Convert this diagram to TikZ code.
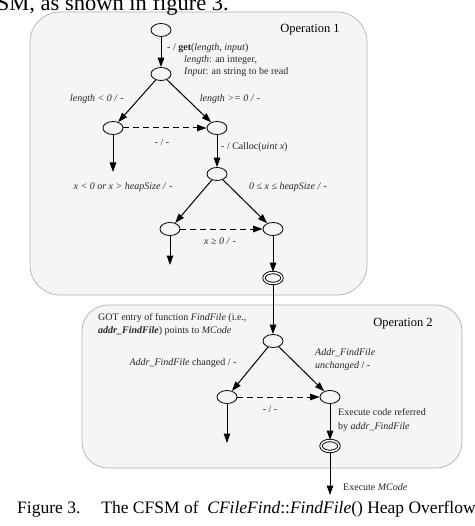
\documentclass[tikz,border=0pt]{standalone}
\usepackage{fontspec}
\setmainfont{Liberation Serif}
\usetikzlibrary{arrows.meta,shapes.geometric}
\begin{document}
\begin{tikzpicture}[x=1pt,y=-1pt,
  st/.style={ellipse,draw,line width=0.8pt,minimum width=20pt,minimum height=13pt,inner sep=0pt},
  fin/.style={st,double,double distance=1.5pt,line width=0.9pt,minimum width=18pt,minimum height=11pt},
  tr/.style={draw,line width=1pt,-{Triangle[length=9.5pt,width=6.5pt]}},
  dtr/.style={tr,dash pattern=on 6pt off 4pt},
  lbl/.style={font=\fontsize{10}{12}\selectfont,inner sep=0pt,text=black!85},
  opbox/.style={draw=black!30,fill=black!4,line width=0.7pt,rounded corners=30pt},
  big/.style={font=\fontsize{17.5}{20}\selectfont,inner sep=0pt}]
\useasboundingbox (0,0) rectangle (474,526);
\fill[white] (0,0) rectangle (474,526);
% boxes
\path[opbox] (30,12) rectangle (367,295);
\path[opbox,rounded corners=26pt] (82,305) rectangle (462,468);
\node[font=\fontsize{12.5}{14}\selectfont,inner sep=0pt] (op1) at (310,30) {Operation 1};
\node[font=\fontsize{12.5}{14}\selectfont,inner sep=0pt] (op2) at (403,324) {Operation 2};
% top text and caption
\node[font=\fontsize{22.5}{26}\selectfont,inner sep=0pt,anchor=base east] (toptext) at (229,10.5) {CFSM, as shown in figure 3.};
\node[big,anchor=base west] (caption) at (17,513) {Figure 3.\hspace{1.2em}The CFSM of \ \textit{CFileFind}::\textit{FindFile}() Heap Overflow};
% states
\node[st] (s0) at (161,30) {};
\node[st] (s1) at (161,74) {};
\node[st] (s2) at (113,128) {};
\node[st] (s3) at (217,128) {};
\node[st] (s4) at (217,174) {};
\node[st] (s5) at (170,229) {};
\node[st] (s6) at (273,229) {};
\node[fin] (s7) at (273,278) {};
\node[st] (s8) at (273,341) {};
\node[st] (s9) at (227,397) {};
\node[st] (s10) at (330,397) {};
\node[fin] (s11) at (330,446) {};
\coordinate (e2) at (113,172);
\coordinate (e5) at (170,265);
\coordinate (e9) at (227,443);
\coordinate (e11) at (330,495);
% transitions
\draw[tr] (s0) -- (s1);
\draw[tr] (s1) -- (s2);
\draw[tr] (s1) -- (s3);
\draw[tr] (s2) -- (e2);
\draw[dtr] (s2) -- (s3);
\draw[tr] (s3) -- (s4);
\draw[tr] (s4) -- (s5);
\draw[tr] (s4) -- (s6);
\draw[tr] (s5) -- (e5);
\draw[dtr] (s5) -- (s6);
\draw[tr] (s6) -- (s7);
\draw[tr] (s7) -- (s8);
\draw[tr] (s8) -- (s9);
\draw[tr] (s8) -- (s10);
\draw[tr] (s9) -- (e9);
\draw[dtr] (s9) -- (s10);
\draw[tr] (s10) -- (s11);
\draw[tr] (s11) -- (e11);
% labels
\node[lbl,anchor=north west,align=left] (lget) at (167,43) {- / \textbf{get}(\textit{length, input})\\\hspace*{17pt}\textit{length}: an integer,\\\hspace*{17pt}\textit{Input}: an string to be read};
\node[lbl] (llt) at (97,99) {\textit{length} \textit{< 0 /} -};
\node[lbl] (lge) at (230,99) {\textit{length} \textit{>= 0 /} -};
\node[lbl] (ld1) at (162,142) {- / -};
\node[lbl,anchor=west] (lcal) at (221,147) {- / Calloc(\textit{uint x})};
\node[lbl] (lx1) at (123,187) {\textit{x < 0 or x > heapSize /} -};
\node[lbl] (lx2) at (288,187) {\textit{0 ≤ x ≤ heapSize /} -};
\node[lbl] (lx3) at (220,241) {\textit{x ≥ 0 /} -};
\node[lbl,anchor=north west,align=left,font=\fontsize{10}{13.4}\selectfont] (lgot) at (98,313) {GOT entry of function \textit{FindFile} (i.e.,\\\textbf{\textit{addr\_FindFile}}) points to \textit{MCode}};
\node[lbl] (lch) at (183,363) {\textit{Addr\_FindFile} changed / -};
\node[lbl,anchor=north west,align=left,font=\fontsize{10}{13}\selectfont] (lun) at (315,348) {\textit{Addr\_FindFile}\\\textit{unchanged} / -};
\node[lbl] (ld2) at (270,409) {- / -};
\node[lbl,anchor=north west,align=left,font=\fontsize{10}{14}\selectfont] (lex) at (338,408) {Execute code referred\\by \textit{addr\_FindFile}};
\node[lbl,anchor=west] (lmc) at (343,487) {Execute \textit{MCode}};
\end{tikzpicture}
\end{document}
